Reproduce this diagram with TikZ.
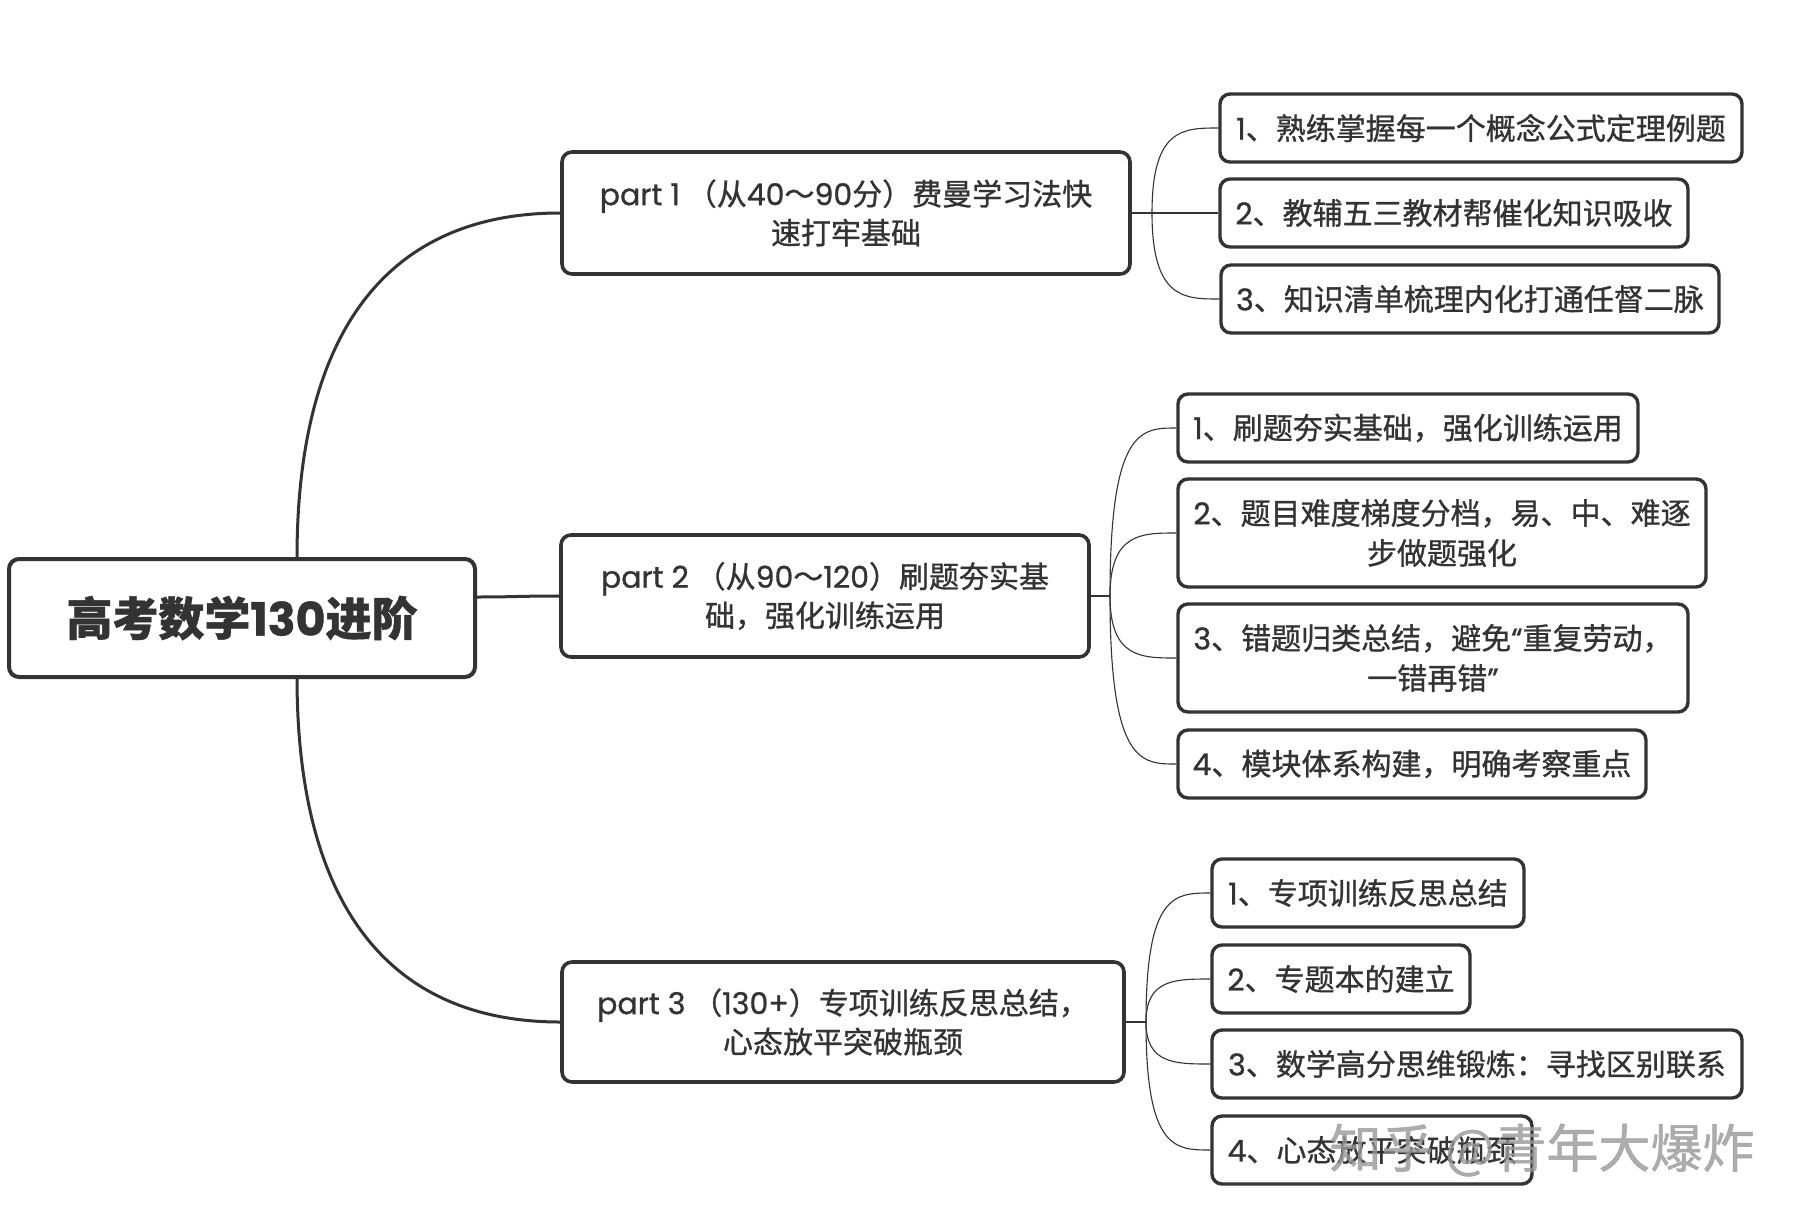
\documentclass[tikz,border=0pt]{standalone}
\usepackage{fontspec}
\setmainfont{Noto Sans CJK SC}[FakeBold=0.9]
\newfontfamily\mont{Poppins}[FakeBold=0.9]
\usetikzlibrary{positioning}

\definecolor{ink}{HTML}{333333}
\newcommand{\en}[1]{{\mont #1}}

\tikzset{
  box/.style={draw=ink, text=ink, fill=white, rounded corners=5pt, inner sep=0pt, align=center},
  rootbox/.style={box, line width=2pt, font=\bfseries\fontsize{23}{28}\selectfont},
  partbox/.style={box, line width=1.8pt, font=\fontsize{15}{19.5}\selectfont},
  leafbox/.style={box, line width=1.7pt, minimum height=34pt, font=\fontsize{15}{20}\selectfont},
  trunk/.style={draw=ink, line width=1.5pt},
  twig/.style={draw=ink, line width=0.55pt}
}

\begin{document}
\begin{tikzpicture}[x=0.5pt, y=-0.5pt]
  \path[fill=white] (0,0) rectangle (1805,1221);

  % centre and the three parts
  \node[rootbox, minimum width=233pt, minimum height=59pt] (root) at (242,618) {高考数学\en{\bfseries 130}进阶};
  \node[partbox, minimum width=284pt, minimum height=61pt] (p1) at (846,213) {\en{part 1} （从\en{40}～\en{90}分）费曼学习法快\\速打牢基础};
  \node[partbox, minimum width=264pt, minimum height=61pt] (p2) at (825,596) {\en{part 2} （从\en{90}～\en{120}）刷题夯实基\\础，强化训练运用};
  \node[partbox, minimum width=281pt, minimum height=60pt] (p3) at (843,1022) {\en{part 3} （\en{130+}）专项训练反思总结，\\心态放平突破瓶颈};

  % part 1 leaves
  \node[leafbox, minimum width=261pt] (c11) at (1481,128) {\en{1}、熟练掌握每一个概念公式定理例题};
  \node[leafbox, minimum width=234pt] (c12) at (1454,213) {\en{2}、教辅五三教材帮催化知识吸收};
  \node[leafbox, minimum width=249pt] (c13) at (1470,299) {\en{3}、知识清单梳理内化打通任督二脉};

  % part 2 leaves
  \node[leafbox, minimum width=230pt] (c21) at (1408,428) {\en{1}、刷题夯实基础，强化训练运用};
  \node[leafbox, minimum width=264pt, minimum height=54pt] (c22) at (1442,533) {\en{2}、题目难度梯度分档，易、中、难逐\\步做题强化};
  \node[leafbox, minimum width=255pt, minimum height=54pt] (c23) at (1433,658) {\en{3}、错题归类总结，避免\en{“}重复劳动，\\一错再错\en{”}};
  \node[leafbox, minimum width=234pt] (c24) at (1412,764) {\en{4}、模块体系构建，明确考察重点};

  % part 3 leaves
  \node[leafbox, minimum width=156pt] (c31) at (1368,893) {\en{1}、专项训练反思总结};
  \node[leafbox, minimum width=129pt] (c32) at (1341,979) {\en{2}、专题本的建立};
  \node[leafbox, minimum width=265pt] (c33) at (1477,1064) {\en{3}、数学高分思维锻炼：寻找区别联系};
  \node[leafbox, minimum width=160pt] (c34) at (1372,1150) {\en{4}、心态放平突破瓶颈};

  \coordinate (rtop) at (297,558);
  \coordinate (rbot) at (297,677);
  \coordinate (rmid) at (475,597);
  \coordinate (j1) at (1152,213);
  \coordinate (j2) at (1110,596);
  \coordinate (j3) at (1146,1022);

  \draw[trunk] (rtop) .. controls +(0,-230) and +(-170,0) .. (p1.west);
  \draw[trunk] (rmid) .. controls +(40,0) and +(-40,0) .. (p2.west);
  \draw[trunk] (rbot) .. controls +(0,230) and +(-170,0) .. (p3.west);

  \draw[twig] (p1.east) -- (j1);
  \draw[twig] (p2.east) -- (j2);
  \draw[twig] (p3.east) -- (j3);
  \foreach \c in {c11,c12,c13}
    \draw[twig] (j1) .. controls (j1 |- \c.west) and +(-35,0) .. (\c.west);
  \foreach \c in {c21,c22,c23,c24}
    \draw[twig] (j2) .. controls (j2 |- \c.west) and +(-35,0) .. (\c.west);
  \foreach \c in {c31,c32,c33,c34}
    \draw[twig] (j3) .. controls (j3 |- \c.west) and +(-35,0) .. (\c.west);

  \node[text=black!40, text opacity=0.8, font=\fontsize{26}{30}\selectfont] (mark) at (1542,1150) {知乎 @青年大爆炸};
\end{tikzpicture}
\end{document}
